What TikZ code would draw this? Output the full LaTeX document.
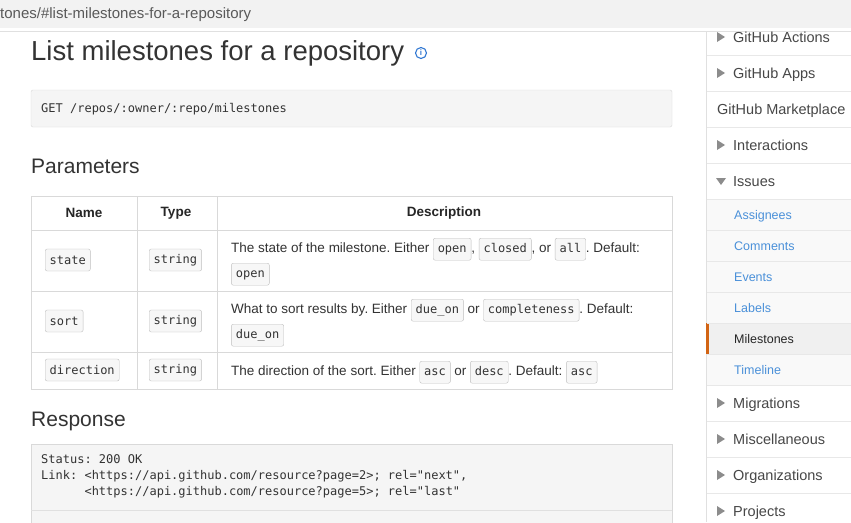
\documentclass[tikz,border=0pt]{standalone}
\usepackage{fontspec}
\setmainfont{Liberation Sans}
\setmonofont{DejaVu Sans Mono}
\definecolor{linkblue}{RGB}{74,144,217}
\definecolor{infoblue}{RGB}{50,120,210}
\definecolor{accent}{RGB}{210,100,20}
\frenchspacing
\begin{document}
\begin{tikzpicture}[x=1pt,y=-1pt,
  txt/.style={inner sep=0pt,anchor=base west,text=black!80},
  pill/.style={draw=black!25,fill=black!3,rounded corners=2pt,inner xsep=4.5pt,inner ysep=0pt,minimum height=22pt,font=\ttfamily\fontsize{12}{14}\selectfont,text=black!80},
  side/.style={inner sep=0pt,anchor=base west,text=black!72,font=\fontsize{14.5}{16}\selectfont},
  sub/.style={inner sep=0pt,anchor=base west,text=linkblue,font=\fontsize{12.5}{14}\selectfont},
  sep/.style={draw=black!9,line width=0.8pt},
  tri/.style={fill=black!45,draw=none}]
\newcommand{\cd}[1]{\tikz[baseline=(p.base)]\node[pill](p){\strut #1};}
\useasboundingbox (0,0) rectangle (851,522);
\fill[white] (0,0) rectangle (851,522);
% url bar
\fill[black!5] (0,0) rectangle (851,28);
\draw[black!12] (0,31.5) -- (851,31.5);
\node[txt,text=black!65,font=\fontsize{15}{17}\selectfont] (url) at (0,19) {tones/\#list-milestones-for-a-repository};
% sidebar
\draw[black!12] (706,32) -- (706,522);
\fill[black!2.5] (707,199) rectangle (851,385);
\fill[black!6] (707,323) rectangle (851,354);
\fill[accent] (706,323) rectangle (708.5,354);
\foreach \yy in {55,91,127,163,199,230,261,292,323,354,385,421,457,493}
  \draw[sep] (707,\yy) -- (851,\yy);
\foreach \yy in {37,73,145,403,439,475,511}
  \fill[tri] (717,\yy-5) -- (725,\yy) -- (717,\yy+5) -- cycle;
\fill[tri] (716,178) -- (726,178) -- (721,185) -- cycle;
\node[side] (s1) at (733,42) {GitHub Actions};
\node[side] (s2) at (733,78) {GitHub Apps};
\node[side] (s3) at (717,114) {GitHub Marketplace};
\node[side] (s4) at (733,150) {Interactions};
\node[side] (s5) at (733,186) {Issues};
\node[sub] (a1) at (734,219) {Assignees};
\node[sub] (a2) at (734,250) {Comments};
\node[sub] (a3) at (734,281) {Events};
\node[sub] (a4) at (734,312) {Labels};
\node[sub,text=black!85] (a5) at (734,343) {Milestones};
\node[sub] (a6) at (734,374) {Timeline};
\node[side] (s6) at (733,408) {Migrations};
\node[side] (s7) at (733,444) {Miscellaneous};
\node[side] (s8) at (733,480) {Organizations};
\node[side] (s9) at (733,516) {Projects};
% title
\node[txt,font=\fontsize{27.5}{32}\selectfont] (title) at (31,60) {List milestones for a repository};
\node[draw=infoblue,circle,line width=1.1pt,minimum size=11pt,inner sep=0pt,text=infoblue,font=\bfseries\fontsize{8}{8}\selectfont] (info) at (421,53) {i};
% GET box
\draw[black!15,fill=black!4,rounded corners=2pt] (31,90) rectangle (672,127);
\node[txt,font=\ttfamily\fontsize{12}{14}\selectfont] (get) at (41,112) {GET /repos/:owner/:repo/milestones};
\node[txt,font=\fontsize{21}{24}\selectfont] (par) at (31,173) {Parameters};
% table
\draw[black!15] (31,196) rectangle (672,389);
\foreach \yy in {230,291,352} \draw[black!15] (31,\yy) -- (672,\yy);
\foreach \xx in {137,217} \draw[black!15] (\xx,196) -- (\xx,389);
\node[font=\bfseries\fontsize{13.5}{15}\selectfont,text=black!85] (h1) at (84,213) {Name};
\node[font=\bfseries\fontsize{13.5}{15}\selectfont,text=black!85] (h2) at (176,213) {Type};
\node[font=\bfseries\fontsize{13.5}{15}\selectfont,text=black!85] (h3) at (444,213) {Description};
\node[pill,anchor=west] (n1) at (45,260) {state};
\node[pill,anchor=west] (n2) at (45,321) {sort};
\node[pill,anchor=west] (n3) at (45,370) {direction};
\node[pill,anchor=west] (t1) at (149,260) {string};
\node[pill,anchor=west] (t2) at (149,321) {string};
\node[pill,anchor=west] (t3) at (149,370) {string};
\begin{scope}[every node/.append style={font=\fontsize{13.5}{15}\selectfont}]
\node[txt] (d1) at (231,252) {The state of the milestone. Either \cd{open}, \cd{closed}, or \cd{all}. Default:};
\node[txt] (d1b) at (231,277) {\cd{open}};
\node[txt] (d2) at (231,313) {What to sort results by. Either \cd{due\_on} or \cd{completeness}. Default:};
\node[txt] (d2b) at (231,338) {\cd{due\_on}};
\node[txt] (d3) at (231,375) {The direction of the sort. Either \cd{asc} or \cd{desc}. Default: \cd{asc}};
\end{scope}
\node[txt,font=\fontsize{21}{24}\selectfont] (resp) at (31,426) {Response};
\draw[black!15,fill=black!4] (31,444) rectangle (672,530);
\draw[black!12] (31,510) -- (672,510);
\node[txt,font=\ttfamily\fontsize{12}{16}\selectfont,align=left,anchor=north west] (body) at (41,454) {Status: 200 OK\\Link: <https://api.github.com/resource?page=2>; rel="next",\\\ \ \ \ \ \ <https://api.github.com/resource?page=5>; rel="last"};
\end{tikzpicture}
\end{document}
